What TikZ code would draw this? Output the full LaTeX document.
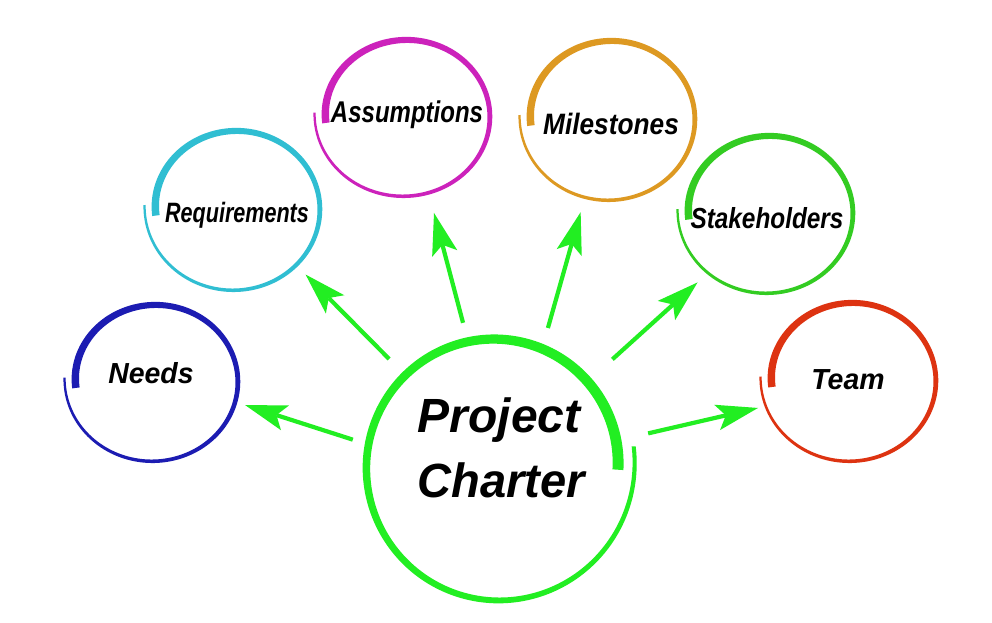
\documentclass[tikz,border=0pt]{standalone}
\usepackage{fontspec}
\setmainfont{Liberation Sans}
\usepackage{graphicx}
\usetikzlibrary{arrows.meta,shapes.geometric}
\definecolor{cNeeds}{RGB}{28,28,178}
\definecolor{cReq}{RGB}{48,190,210}
\definecolor{cAss}{RGB}{204,34,187}
\definecolor{cMil}{RGB}{221,153,34}
\definecolor{cStk}{RGB}{51,204,34}
\definecolor{cTeam}{RGB}{221,51,17}
\definecolor{cMain}{RGB}{34,238,34}
\def\ringo{-6}\def\ringd{11}
% hand-drawn ring: cx cy rx ry a0 a1 colour w0 w1
\newcommand\hring[9]{%
  \fill[#7] plot[domain=0:1,samples=160,smooth,variable=\s]
   ({#1+(#3+(\ringo)+(\ringd)*\s+0.5*(#8+(#9-#8)*\s))*cos(#5+(#6-#5)*\s)},
    {#2-(#4+(\ringo)+(\ringd)*\s+0.5*(#8+(#9-#8)*\s))*sin(#5+(#6-#5)*\s)})
   -- plot[domain=1:0,samples=160,smooth,variable=\s]
   ({#1+(#3+(\ringo)+(\ringd)*\s-0.5*(#8+(#9-#8)*\s))*cos(#5+(#6-#5)*\s)},
    {#2-(#4+(\ringo)+(\ringd)*\s-0.5*(#8+(#9-#8)*\s))*sin(#5+(#6-#5)*\s)})
   -- cycle;}
\begin{document}
\begin{tikzpicture}[x=1pt,y=-1pt,
  anchorring/.style={ellipse, draw=none, inner sep=0pt, outer sep=0pt},
  lbl/.style={anchor=base, inner sep=0pt, text=black},
  arr/.style={draw=cMain, line width=4.2pt, -{Stealth[length=42pt,width=26pt,inset=9pt,line width=0pt]}}]
\fill[white] (0,0) rectangle (992,622);
\useasboundingbox (0,0) rectangle (992,622);

% rings
\hring{153.9}{380.4}{84.4}{78.6}{186}{-182}{cNeeds}{7.5}{2.2}
\hring{234.9}{207.9}{85.4}{80.1}{186}{-182}{cReq}{7.5}{2.2}
\hring{404.9}{115.4}{85.4}{78.6}{186}{-182}{cAss}{7.5}{2.2}
\hring{609.9}{117.9}{85.4}{80.1}{186}{-182}{cMil}{7.5}{2.2}
\hring{767.9}{211.9}{85.4}{79.1}{186}{-182}{cStk}{7.5}{2.2}
\hring{850.9}{379.4}{85.4}{79.6}{186}{-182}{cTeam}{7.5}{2.2}
{\def\ringo{-9}\def\ringd{17}
\hring{496.4}{465.6}{130.6}{131.3}{-2}{368}{cMain}{11}{4}}

% invisible ring outlines used as arrow anchors
\node[anchorring, minimum width=272pt, minimum height=266pt] (pc) at (500,470) {};
\node[anchorring, minimum width=172pt, minimum height=162pt] (needs) at (153,383) {};
\node[anchorring, minimum width=172pt, minimum height=162pt] (req) at (237,210) {};
\node[anchorring, minimum width=172pt, minimum height=160pt] (ass) at (404,117) {};
\node[anchorring, minimum width=172pt, minimum height=164pt] (mil) at (610,120) {};
\node[anchorring, minimum width=172pt, minimum height=162pt] (stk) at (767,214) {};
\node[anchorring, minimum width=176pt, minimum height=164pt] (team) at (850,382) {};

% labels
\node[lbl] (needsT) at (151,383) {\fontsize{29}{29}\selectfont\bfseries\itshape\scalebox{0.98}[1]{Needs}};
\node[lbl] (reqT) at (237,222) {\fontsize{28}{28}\selectfont\bfseries\itshape\scalebox{0.77}[1]{Requirements}};
\node[lbl] (assT) at (407,122) {\fontsize{30}{30}\selectfont\bfseries\itshape\scalebox{0.8}[1]{Assumptions}};
\node[lbl] (milT) at (611,134) {\fontsize{29.5}{29.5}\selectfont\bfseries\itshape\scalebox{0.89}[1]{Milestones}};
\node[lbl] (stkT) at (767,228) {\fontsize{29}{29}\selectfont\bfseries\itshape\scalebox{0.84}[1]{Stakeholders}};
\node[lbl] (teamT) at (848,389) {\fontsize{29}{29}\selectfont\bfseries\itshape\scalebox{0.98}[1]{Team}};
\node[lbl] (pcT1) at (499,432) {\fontsize{48}{48}\selectfont\bfseries\itshape\scalebox{1.0}[1]{Project}};
\node[lbl] (pcT2) at (501,497) {\fontsize{48}{48}\selectfont\bfseries\itshape\scalebox{0.98}[1]{Charter}};

% arrows
\draw[arr, shorten <=14.5pt, shorten >=8.9pt] (pc.169.66) -- (needs.-13.45);
\draw[arr, shorten <=22.5pt, shorten >=10.6pt] (pc.135.5) -- (req.-43.7);
\draw[arr, shorten <=18.6pt, shorten >=20pt] (pc.104.5) -- (ass.-72.6);
\draw[arr, shorten <=16.6pt, shorten >=14.4pt] (pc.71.3) -- (mil.-108.06);
\draw[arr, shorten <=23.3pt, shorten >=14.1pt] (pc.45.8) -- (stk.-135.8);
\draw[arr, shorten <=16.8pt, shorten >=8.1pt] (pc.14.04) -- (team.-164.2);
\end{tikzpicture}
\end{document}
